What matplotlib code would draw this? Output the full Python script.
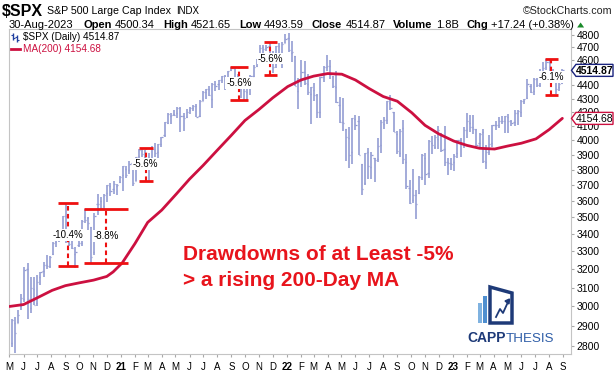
import matplotlib
matplotlib.use('Agg')
import matplotlib.pyplot as plt
import matplotlib.dates as mdates
import numpy as np
import pandas as pd
from matplotlib.patches import Polygon, Rectangle

plt.rcParams['font.family'] = ['Liberation Sans', 'DejaVu Sans']

# ---- weekly $SPX bars (week ending Friday, from 8-May-2020) ----
w_open = [2815, 2915, 2914, 3000, 3038, 3199, 2994, 3094, 3018, 3155, 3191, 3224, 3219, 3288, 3356, 3382, 3411, 3509,
          3370, 3363, 3286, 3338, 3350, 3500, 3494, 3441, 3296, 3583, 3600, 3567, 3654, 3698, 3675, 3694, 3723,
          3764, 3803, 3797, 3844, 3731, 3892, 3939, 3886, 3843, 3844, 3942, 3917, 3971, 4034, 4124, 4174, 4185, 4192,
          4228, 4169, 4168, 4216, 4230, 4248, 4173, 4285, 4352, 4372, 4297, 4410, 4407, 4437, 4472, 4450, 4518, 4535,
          4474, 4403, 4450, 4348, 4385, 4473, 4553, 4610, 4701, 4690, 4712, 4628, 4572, 4711, 4587, 4733,
          4778, 4656, 4632, 4357, 4431, 4505, 4412, 4333, 4363, 4327, 4202, 4462, 4541, 4548, 4474, 4386, 4255, 4130,
          4081, 4013, 3920, 4151, 4134, 3838, 3715, 3920, 3819, 3880, 3875, 3965, 4112, 4145, 4269, 4198, 4041, 3910,
          4084, 3853, 3682, 3610, 3639, 3650, 3753, 3881, 3780, 3982, 3956, 4006, 4053, 3939, 3853, 3843,
          3853, 3911, 3999, 3979, 4074, 4120, 4096, 4077, 3984, 4055, 3854, 3917, 3982, 4110, 4110, 4138, 4134, 4167,
          4136, 4126, 4190, 4200, 4282, 4305, 4397, 4355, 4450, 4404, 4505, 4544, 4578, 4492, 4464, 4389, 4415]
w_high = [2934, 2945, 2980, 3068, 3211, 3233, 3156, 3155, 3166, 3185, 3238, 3280, 3272, 3352, 3387, 3399, 3509, 3588,
          3425, 3429, 3328, 3397, 3482, 3549, 3502, 3441, 3529, 3645, 3628, 3645, 3700, 3713, 3726, 3711, 3760,
          3826, 3823, 3861, 3870, 3888, 3937, 3950, 3932, 3915, 3960, 3983, 3975, 4021, 4129, 4191, 4195, 4219, 4238,
          4238, 4192, 4220, 4234, 4250, 4262, 4287, 4355, 4372, 4393, 4415, 4429, 4440, 4469, 4481, 4513, 4545, 4536,
          4486, 4466, 4457, 4429, 4475, 4559, 4608, 4718, 4714, 4718, 4743, 4672, 4713, 4731, 4740, 4808,
          4818, 4749, 4632, 4453, 4595, 4590, 4490, 4385, 4416, 4336, 4465, 4546, 4637, 4593, 4471, 4513, 4308, 4307,
          4081, 4091, 4160, 4178, 4169, 3838, 3914, 3950, 3919, 3880, 4013, 4140, 4167, 4280, 4325, 4203, 4062, 4077,
          4140, 3908, 3736, 3807, 3671, 3762, 3905, 3911, 4000, 4028, 4034, 4100, 4053, 4101, 3876, 3878,
          3906, 4003, 4016, 4095, 4195, 4180, 4176, 4081, 4048, 4078, 3965, 4039, 4110, 4133, 4164, 4169, 4170, 4186,
          4143, 4213, 4213, 4290, 4299, 4448, 4408, 4458, 4456, 4528, 4578, 4607, 4595, 4527, 4490, 4458, 4522]
w_low = [2797, 2766, 2914, 2981, 3025, 2936, 2965, 3008, 3000, 3115, 3155, 3201, 3209, 3279, 3328, 3354, 3387, 3349,
         3330, 3313, 3209, 3323, 3332, 3466, 3424, 3233, 3279, 3512, 3546, 3554, 3595, 3633, 3647, 3636, 3717,
         3663, 3750, 3775, 3694, 3725, 3874, 3884, 3805, 3723, 3816, 3886, 3853, 3956, 4021, 4118, 4118, 4169, 4157,
         4057, 4062, 4156, 4184, 4207, 4165, 4164, 4278, 4293, 4321, 4233, 4360, 4367, 4416, 4367, 4450, 4513, 4457,
         4427, 4305, 4288, 4278, 4330, 4465, 4538, 4595, 4630, 4672, 4585, 4495, 4530, 4600, 4531, 4733,
         4662, 4582, 4395, 4222, 4385, 4401, 4327, 4114, 4279, 4157, 4161, 4424, 4507, 4450, 4381, 4267, 4124, 4062,
         3859, 3811, 3838, 4074, 3900, 3637, 3705, 3739, 3743, 3722, 3853, 3911, 4080, 4114, 4219, 4057, 3907, 3886,
         3837, 3677, 3585, 3591, 3492, 3644, 3735, 3699, 3750, 3903, 3938, 3940, 3918, 3827, 3764, 3800,
         3794, 3877, 3885, 3949, 4015, 4060, 4047, 3944, 3943, 3846, 3808, 3901, 3951, 4069, 4086, 4114, 4049, 4048,
         4099, 4098, 4104, 4167, 4260, 4297, 4341, 4328, 4385, 4390, 4498, 4519, 4474, 4446, 4335, 4356, 4412]
w_close = [2930, 2864, 2955, 3044, 3194, 3041, 3098, 3009, 3130, 3185, 3225, 3216, 3271, 3351, 3373, 3397, 3508, 3427,
           3341, 3319, 3298, 3348, 3477, 3484, 3465, 3270, 3510, 3585, 3558, 3638, 3699, 3663, 3709, 3703, 3756,
           3825, 3768, 3841, 3714, 3887, 3934, 3907, 3811, 3842, 3943, 3913, 3975, 4020, 4129, 4185, 4180, 4181, 4233,
           4174, 4156, 4204, 4230, 4247, 4166, 4281, 4352, 4370, 4327, 4412, 4395, 4437, 4468, 4442, 4509, 4535, 4458,
           4433, 4455, 4357, 4391, 4471, 4545, 4605, 4697, 4683, 4698, 4595, 4538, 4712, 4620, 4726, 4766,
           4677, 4663, 4398, 4432, 4500, 4419, 4349, 4385, 4329, 4204, 4463, 4543, 4546, 4488, 4393, 4272, 4132, 4123,
           4024, 3901, 4158, 4109, 3901, 3675, 3912, 3825, 3899, 3863, 3962, 4130, 4145, 4280, 4228, 4058, 3924, 4067,
           3873, 3693, 3586, 3640, 3583, 3753, 3901, 3771, 3993, 3965, 4026, 4072, 3934, 3852, 3845, 3840,
           3895, 3999, 3973, 4070, 4136, 4090, 4079, 3970, 4045, 3862, 3917, 3971, 4109, 4105, 4138, 4133, 4169, 4136,
           4124, 4192, 4205, 4282, 4299, 4410, 4348, 4450, 4399, 4505, 4536, 4582, 4478, 4464, 4370, 4406, 4515]

# ---- 200-day moving average ----
ma_dates = ['2020-05-01', '2020-06-01', '2020-07-01', '2020-08-03', '2020-09-01', '2020-10-01', '2020-11-02',
            '2020-12-01', '2020-12-15', '2021-01-04', '2021-02-01', '2021-03-01', '2021-04-01', '2021-05-03',
            '2021-06-01', '2021-07-01', '2021-08-02', '2021-09-01', '2021-10-01', '2021-11-01', '2021-12-01',
            '2022-01-03', '2022-02-01', '2022-03-01', '2022-04-01', '2022-05-02', '2022-06-01', '2022-07-01',
            '2022-08-01', '2022-09-01', '2022-10-03', '2022-11-01', '2022-12-01', '2023-01-03', '2023-02-01',
            '2023-03-01', '2023-04-03', '2023-05-01', '2023-06-01', '2023-07-03', '2023-08-01', '2023-08-30']
ma_vals = [3000, 3010, 3045, 3085, 3110, 3125, 3140, 3160, 3185, 3235, 3345, 3470, 3545, 3645, 3740, 3830, 3935,
           4035, 4140, 4220, 4305, 4390, 4440, 4470, 4490, 4485, 4440, 4375, 4315, 4280, 4195, 4105, 4045, 3995,
           3965, 3945, 3940, 3960, 3980, 4010, 4075, 4155]

# ---- drawdown markers ----
dd_start = ['2020-08-16', '2020-10-13', '2021-02-09', '2021-08-29', '2021-11-11', '2023-07-22']
dd_end = ['2020-09-29', '2021-01-17', '2021-03-12', '2021-10-08', '2021-12-10', '2023-08-20']
dd_top = [3588, 3549, 3950, 4545, 4743, 4607]
dd_bot = [3215, 3237, 3729, 4290, 4477, 4326]
dd_text = ['-10.4%', '-8.8%', '-5.6%', '-5.6%', '-5.6%', '-6.1%']

price_ticks = list(range(2800, 4900, 100))
last_close = 4514.87
last_ma = 4154.68

W, H = 614, 376
fig = plt.figure(figsize=(W / 100, H / 100), dpi=100)
ax = fig.add_axes([9 / W, 1 - 354 / H, 562 / W, 325 / H])

red = '#ee1111'
ma_red = '#cc1040'
bar_col = '#949dd3'

weeks = pd.date_range('2020-05-08', periods=len(w_close), freq='W-FRI')
xb = mdates.date2num(weeks) - 2
ax.vlines(xb, w_low, w_high, color=bar_col, lw=1.2)
ax.hlines(w_open, xb - 2.6, xb, color=bar_col, lw=0.9)
ax.hlines(w_close, xb, xb + 2.6, color=bar_col, lw=0.9)

ma_x = mdates.date2num(pd.to_datetime(ma_dates))
ax.plot(ma_x, ma_vals, color=ma_red, lw=2, solid_capstyle='round', zorder=3)

for s, e, top, bot, lab in zip(dd_start, dd_end, dd_top, dd_bot, dd_text):
    xs = mdates.date2num(pd.Timestamp(s))
    xe = mdates.date2num(pd.Timestamp(e))
    xm = (xs + xe) / 2
    ax.hlines([top, bot], xs, xe, color=red, lw=2, zorder=4)
    ax.vlines(xm, bot, top, color=red, lw=1.5, linestyles=(0, (2.2, 1.6)), zorder=4)
    ax.text(xm, np.sqrt(top * bot), lab, ha='center', va='center', fontsize=7, zorder=5,
            bbox=dict(fc='white', ec='none', pad=0.6))

ax.set_yscale('log')
ax.set_ylim(2763, 4850)
ax.set_xlim(mdates.date2num(pd.Timestamp('2020-04-30')), mdates.date2num(pd.Timestamp('2023-09-18')))
# 4500 sits under the last-price box in the reference
ax.set_yticks(price_ticks, ['' if v == 4500 else str(v) for v in price_ticks])
ax.minorticks_off()
ax.yaxis.tick_right()
ax.tick_params(axis='y', length=2.5, pad=1.5, labelsize=7.5, color='#a8a8a8')

months = pd.date_range('2020-05-01', '2023-09-01', freq='MS')
mlabels = [str(m.year)[2:] if m.month == 1 else m.strftime('%b')[0] for m in months]
ax.set_xticks(mdates.date2num(months), mlabels)
for t, m in zip(ax.get_xticklabels(), months):
    if m.month == 1:
        t.set_fontweight('bold')
ax.tick_params(axis='x', length=2, pad=4, labelsize=7, color='#a8a8a8')

for sp in ax.spines.values():
    sp.set_color('#c4c4c4')
    sp.set_linewidth(0.8)
ax.spines['right'].set_linestyle((0, (1, 1)))

# ---- overlay in pixel coords ----
ov = fig.add_axes([0, 0, 1, 1], zorder=5)
ov.set_xlim(0, W)
ov.set_ylim(H, 0)
ov.axis('off')

ov.text(2, 11, '$SPX', fontsize=11.5, fontweight='bold', va='center')
ov.text(47, 11.5, 'S&P 500 Large Cap Index', fontsize=7.7, va='center')
ov.text(176, 11.5, 'INDX', fontsize=7, va='center')
ov.text(612, 11.5, '\u00a9StockCharts.com', fontsize=7.7, va='center', ha='right', color='#222222')

pieces = [('30-Aug-2023', 'normal', 10), ('Open', 'bold', 3), ('4500.34', 'normal', 8), ('High', 'bold', 3),
          ('4521.65', 'normal', 8), ('Low', 'bold', 3), ('4493.59', 'normal', 8), ('Close', 'bold', 3),
          ('4514.87', 'normal', 8), ('Volume', 'bold', 3), ('1.8B', 'normal', 8), ('Chg', 'bold', 3),
          ('+17.24 (+0.38%)', 'normal', 3)]
fig.canvas.draw()
rend = fig.canvas.get_renderer()
xcur = 9
for txt, wt, gap in pieces:
    t = ov.text(xcur, 24.5, txt, fontsize=8, fontweight=wt, va='center')
    xcur += t.get_window_extent(rend).width + gap
ov.add_patch(Polygon([(xcur, 27.5), (xcur + 7, 27.5), (xcur + 3.5, 22.5)], closed=True, fc='#1a8a2a', ec='none'))

# legend inside plot
ov.vlines([13, 17], [33, 35], [40, 42], color='#2040a0', lw=1)
ov.hlines([35, 38, 37, 40], [11, 13, 15, 17], [13, 15, 17, 19], color='#2040a0', lw=0.8)
ov.text(23, 37, '$SPX (Daily) 4514.87', fontsize=7.2, va='center')
ov.plot([11, 20], [49, 49], color=ma_red, lw=2)
ov.text(23, 49, 'MA(200) 4154.68', fontsize=7.2, va='center', color=ma_red)

# price boxes on right axis
x_last = mdates.date2num(weeks[-1])
for val, ec, wt in [(last_close, '#1a237e', 'bold'), (last_ma, ma_red, 'normal')]:
    ypx = H - ax.transData.transform((x_last, val))[1]
    ov.add_patch(Polygon([(571.5, ypx), (576, ypx - 6), (613, ypx - 6), (613, ypx + 6), (576, ypx + 6)],
                         closed=True, fc='white', ec=ec, lw=1))
    ov.text(594.5, ypx + 0.5, f'{val:.2f}', fontsize=7.5, fontweight=wt, ha='center', va='center')

# big red annotation
ov.text(183, 260, 'Drawdowns of at Least -5%', fontsize=15, fontweight='bold', color='#e8141c', va='baseline')
ov.text(183, 286, '> a rising 200-Day MA', fontsize=15, fontweight='bold', color='#e8141c', va='baseline')

# CAPPTHESIS logo
navy = '#1e3a78'
ov.add_patch(Rectangle((478, 303), 3.5, 20, fc='#7fb2e0', ec='none'))
ov.add_patch(Rectangle((482.5, 296), 4, 27, fc='#4f8fd0', ec='none'))
ov.add_patch(Polygon([(490, 287), (512, 293), (512, 323), (490, 323)], closed=True, fc='white', ec=navy, lw=2.5))
ov.plot([496, 500, 503, 508], [317, 309, 313, 302], color=navy, lw=1.3)
ov.add_patch(Polygon([(509.5, 299), (505, 301), (509, 304)], closed=True, fc=navy, ec=navy))
tc = ov.text(467, 342, 'CAPP', fontsize=10, fontweight='bold', color=navy, va='baseline')
wc = tc.get_window_extent(rend).width
ov.text(467 + wc + 0.5, 342, 'THESIS', fontsize=9.6, color='#2f5ea8', va='baseline')

fig.savefig('out.png', dpi=100)
